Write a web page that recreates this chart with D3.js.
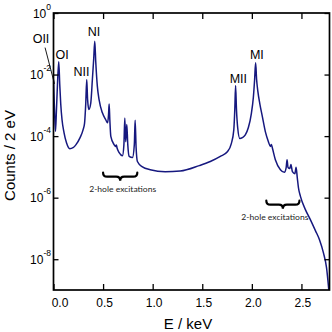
<!DOCTYPE html>
<html><head><meta charset="utf-8">
<script src="https://cdn.jsdelivr.net/npm/d3@7/dist/d3.min.js"></script>
<style>body{margin:0;background:#fff}svg{display:block}</style>
</head><body>
<script>
// ---- data ----
const energy = [0.000,0.010,0.020,0.030,0.040,0.053,0.063,0.073,0.086,0.106,0.131,0.164,0.197,0.227,0.268,0.298,0.313,0.325,0.335,0.344,0.357,0.376,0.392,0.405,0.416,0.426,0.442,0.460,0.493,0.527,0.545,0.555,0.561,0.568,0.578,0.611,0.626,0.634,0.641,0.662,0.695,0.710,0.719,0.728,0.739,0.749,0.763,0.796,0.815,0.823,0.833,0.846,0.897,0.975,1.126,1.278,1.470,1.581,1.682,1.753,1.793,1.818,1.828,1.836,1.845,1.857,1.879,1.904,1.934,1.965,1.995,2.015,2.028,2.038,2.048,2.061,2.081,2.106,2.136,2.167,2.187,2.197,2.207,2.237,2.288,2.328,2.346,2.355,2.365,2.382,2.394,2.409,2.434,2.446,2.458,2.470,2.490,2.540,2.591,2.641,2.682,2.722,2.753,2.776];
const counts = [6.9e-3,7.3e-4,1.4e-4,7.3e-4,4.7e-3,2.6e-2,4.7e-3,1.1e-3,3.4e-4,1.3e-4,6.1e-5,3.9e-5,4.2e-5,5.3e-5,8.9e-5,1.6e-4,2.6e-4,1.1e-3,6.9e-3,1.5e-3,7.3e-4,1.2e-3,6.9e-3,3.1e-2,1.2e-1,2.6e-2,4.2e-3,1.5e-3,5.7e-4,3.4e-4,2.7e-4,5.0e-4,1.1e-3,3.4e-4,9.8e-5,5.3e-5,4.6e-5,5.1e-5,4.1e-5,2.9e-5,2.3e-5,5.3e-5,3.9e-4,6.6e-5,2.4e-4,5.3e-5,2.2e-5,2.0e-5,5.3e-5,3.3e-4,4.2e-5,1.5e-5,1.0e-5,8.1e-6,7.0e-6,7.3e-6,1.1e-5,1.5e-5,2.2e-5,3.1e-5,5.7e-5,1.6e-4,7.3e-4,4.4e-3,7.3e-4,1.9e-4,8.3e-5,8.9e-5,1.1e-4,1.9e-4,5.4e-4,1.8e-3,6.9e-3,2.4e-2,6.9e-3,2.8e-3,1.1e-3,4.3e-4,1.4e-4,6.6e-5,4.6e-5,5.3e-5,4.1e-5,1.7e-5,8.1e-6,6.7e-6,9.5e-6,1.7e-5,9.5e-6,8.8e-6,1.2e-5,7.0e-6,6.0e-6,9.7e-6,4.5e-6,2.1e-6,1.1e-6,4.1e-7,1.9e-7,8.5e-8,4.3e-8,1.6e-8,5.3e-9,1.0e-9];

const xTicks = [0, 0.5, 1.0, 1.5, 2.0, 2.5];
const xTickLabels = ["0.0","0.5","1.0","1.5","2.0","2.5"];
const yTicks = [1, 1e-2, 1e-4, 1e-6, 1e-8];
const yTickExp = ["0","-2","-4","-6","-8"];

const peakNames = ["OII","OI","NII","NI","MII","MI"];
const peakLabelE = [-0.126, 0.086, 0.283, 0.409, 1.864, 2.051];
const peakLabelC = [0.11, 0.031, 0.0093, 0.185, 0.0055, 0.033];

const braceText = ["2-hole excitations","2-hole excitations"];
const braceE0 = [0.50, 2.146];
const braceE1 = [0.845, 2.48];
const braceC = [6.5e-6, 8e-7];

// ---- layout ----
const W = 332, H = 332;
const L = 53.5, R = 329.5, T = 13, B = 290;
const svg = d3.select("body").append("svg").attr("width", W).attr("height", H);
const x = d3.scaleLinear().domain([0, 2.783]).range([L, R]);
const y = d3.scaleLog().domain([1e-9, 1]).range([B, T]);
const font = "'Liberation Sans', Arial, Helvetica, sans-serif";

svg.append("clipPath").attr("id","clip").append("rect")
  .attr("x", L).attr("y", T).attr("width", R-L).attr("height", B-T);

// curve
const pts = energy.map((e,i)=>[e, counts[i]]);
svg.append("path").datum(pts)
  .attr("clip-path","url(#clip)")
  .attr("fill","none").attr("stroke","#16187f").attr("stroke-width",1.5)
  .attr("stroke-linejoin","round")
  .attr("d", d3.line().x(d=>x(d[0])).y(d=>y(d[1])).curve(d3.curveMonotoneX));

// axes
const gB = svg.append("g").attr("transform",`translate(0,${B})`)
  .call(d3.axisBottom(x).tickValues(xTicks).tickSize(-6).tickPadding(8.5)
    .tickFormat((d,i)=>xTickLabels[i]));
const gT = svg.append("g").attr("transform",`translate(0,${T})`)
  .call(d3.axisTop(x).tickValues(xTicks).tickSize(-6).tickFormat(""));
const gL = svg.append("g").attr("transform",`translate(${L},0)`)
  .call(d3.axisLeft(y).tickValues(yTicks).tickSize(-5).tickFormat(""));
const gR = svg.append("g").attr("transform",`translate(${R},0)`)
  .call(d3.axisRight(y).tickValues(yTicks).tickSize(-5).tickFormat(""));
[gB,gT,gL,gR].forEach(g=>{
  g.select(".domain").remove();
  g.selectAll(".tick line").attr("stroke","#000").attr("stroke-width",1.3);
});
gB.selectAll(".tick text").attr("font-family",font).attr("font-size",12).attr("fill","#000")
  .attr("dx",(d,i)=> i===0 ? 6 : 1);

// y tick labels with superscripts
yTicks.forEach((v,i)=>{
  const t = svg.append("text").attr("x", 51).attr("y", y(v)+4.5)
    .attr("text-anchor","end").attr("font-family",font).attr("fill","#000");
  t.append("tspan").attr("font-size",12).text("10");
  t.append("tspan").attr("font-size",8.5).attr("dy",-8).text(yTickExp[i]);
});

// frame
svg.append("rect").attr("x",L).attr("y",T).attr("width",R-L).attr("height",B-T)
  .attr("fill","none").attr("stroke","#000").attr("stroke-width",1.7);

// axis titles
svg.append("text").attr("x",188).attr("y",329).attr("text-anchor","middle")
  .attr("font-family",font).attr("font-size",15).attr("fill","#000").text("E / keV");
svg.append("text").attr("transform","translate(14.5,155.5) rotate(-90)").attr("text-anchor","middle")
  .attr("font-family",font).attr("font-size",15).attr("fill","#000").text("Counts / 2 eV");

// peak labels
peakNames.forEach((n,i)=>{
  svg.append("text").attr("x",x(peakLabelE[i])).attr("y",y(peakLabelC[i]))
    .attr("text-anchor","middle").attr("font-family",font).attr("font-size",12.5)
    .attr("fill","#000").text(n);
});
// OII leader line
svg.append("line").attr("x1",x(-0.085)).attr("y1",y(0.075)).attr("x2",x(0.01)).attr("y2",y(0.005))
  .attr("stroke","#000").attr("stroke-width",0.9);

// braces and labels
braceText.forEach((txt,i)=>{
  const x0 = x(braceE0[i]), x1 = x(braceE1[i]), xc = (x0+x1)/2;
  const y0 = y(braceC[i]), ym = y0+4, y1 = y0+8, r = 4;
  const p = `M${x0},${y0} Q${x0},${ym} ${x0+r},${ym} L${xc-r},${ym} Q${xc},${ym} ${xc},${y1} Q${xc},${ym} ${xc+r},${ym} L${x1-r},${ym} Q${x1},${ym} ${x1},${y0}`;
  svg.append("path").attr("d",p).attr("fill","none").attr("stroke","#000").attr("stroke-width",2.2)
    .attr("stroke-linecap","round");
  svg.append("text").attr("x",xc + (i===0?2.5:-8)).attr("y",y1+11)
    .attr("text-anchor","middle").attr("font-family","Lato, 'Open Sans', sans-serif")
    .attr("font-size",8).attr("fill","#222")
    .attr("textLength",67).attr("lengthAdjust","spacingAndGlyphs").text(txt);
});
</script>
</body></html>
